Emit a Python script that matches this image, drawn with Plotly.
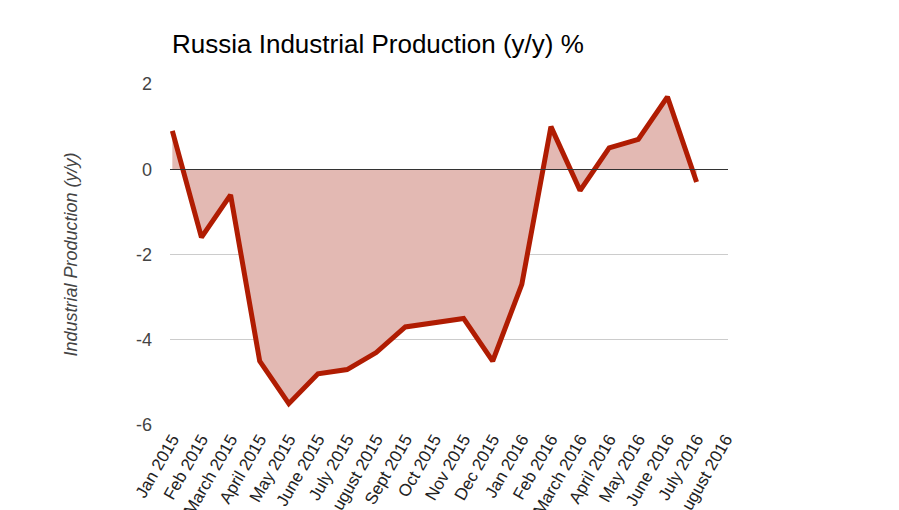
import plotly.graph_objects as go

months = ["Jan 2015", "Feb 2015", "March 2015", "April 2015", "May 2015", "June 2015",
          "July 2015", "August 2015", "Sept 2015", "Oct 2015", "Nov 2015", "Dec 2015",
          "Jan 2016", "Feb 2016", "March 2016", "April 2016", "May 2016", "June 2016",
          "July 2016", "August 2016"]
values = [0.9, -1.6, -0.6, -4.5, -5.5, -4.8, -4.7, -4.3, -3.7, -3.6, -3.5, -4.5,
          -2.7, 1.0, -0.5, 0.5, 0.7, 1.7, -0.3, None]
y_ticks = [-6, -4, -2, 0, 2]

fig = go.Figure()
fig.add_trace(go.Scatter(
    x=months, y=values, mode="lines", fill="tozeroy",
    fillcolor="#e3b9b3",
    line=dict(color="#b01c02", width=5),
    connectgaps=False, hoverinfo="x+y", showlegend=False,
))

fig.update_layout(
    width=899, height=510,
    margin=dict(l=170, r=171, t=84, b=85),
    paper_bgcolor="white", plot_bgcolor="white",
    font=dict(family="Liberation Sans, Arial, sans-serif", color="#222"),
    title=dict(text="Russia Industrial Production (y/y) %", x=172/899, xref="container",
               xanchor="left", y=1-44/510, yanchor="middle",
               font=dict(size=26, color="#000")),
    xaxis=dict(type="category", categoryorder="array", categoryarray=months,
               range=[-0.08, 19.08], showgrid=False, zeroline=False, showline=False,
               automargin=False,
               tickangle=-60, tickfont=dict(size=17, color="#222"), ticks=""),
    yaxis=dict(range=[-6, 2], tickvals=y_ticks, ticktext=[str(v) for v in y_ticks],
               showgrid=True, gridcolor="#cccccc", gridwidth=1,
               zeroline=True, zerolinecolor="#333333", zerolinewidth=1,
               zerolinelayer="above traces", automargin=False,
               showline=False, ticks="", ticklabelstandoff=17,
               tickfont=dict(size=18, color="#444")),
    annotations=[dict(text="<i>Industrial Production (y/y)</i>", xref="paper", yref="paper",
                      x=(70-170)/558, y=0.5, xanchor="center", yanchor="middle",
                      textangle=-90, showarrow=False,
                      font=dict(size=18, color="#444"))],
)

fig.write_html("out.html")
